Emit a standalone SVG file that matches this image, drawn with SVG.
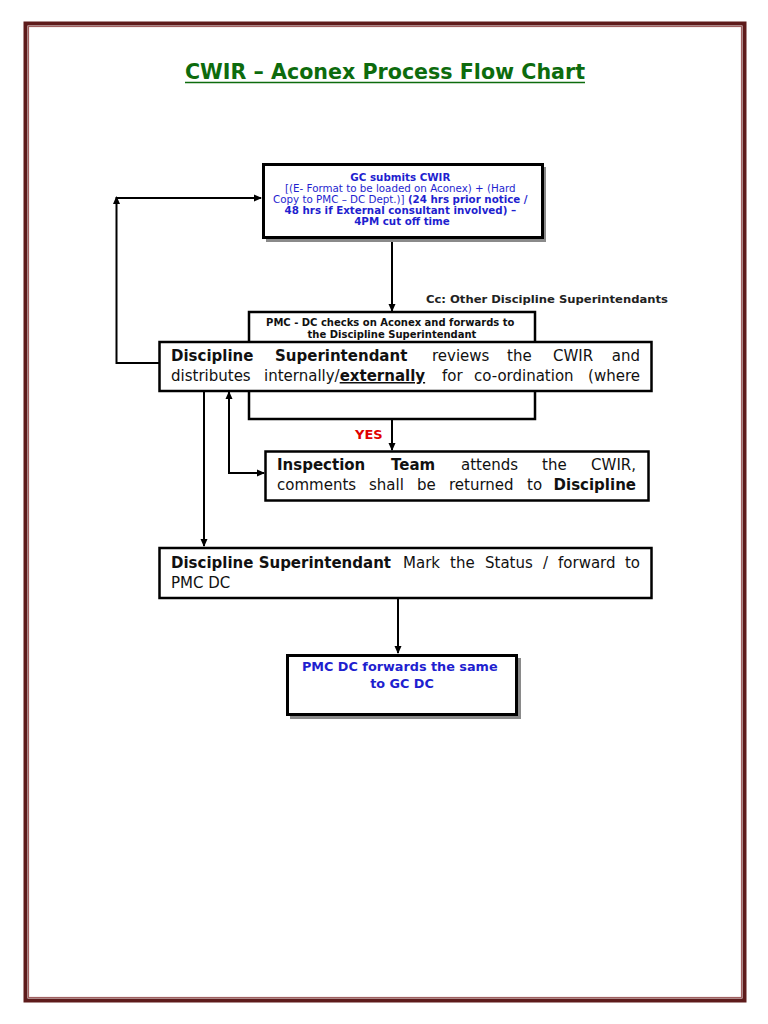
<svg xmlns="http://www.w3.org/2000/svg" width="768" height="1024" viewBox="0 0 768 1024">
<style>
.box{fill:#fff;stroke:#000;stroke-width:2.5}
.thick{fill:#fff;stroke:#000;stroke-width:3}
.shadow{fill:#8a8a8a}
.t{font-family:"DejaVu Sans","Verdana",sans-serif;font-size:15px;fill:#111}
.b{font-weight:bold}
.blue{font-family:"DejaVu Sans",sans-serif;fill:#1f1fcf}
.conn{fill:none;stroke:#000;stroke-width:2}
</style>
<defs>
<marker id="ah" markerWidth="8" markerHeight="8" refX="7" refY="4" orient="auto" markerUnits="userSpaceOnUse">
<path d="M0,0.5 L8,4 L0,7.5 Z" fill="#000"/>
</marker>
</defs>
<rect width="768" height="1024" fill="#fff"/>
<g id="page-border">
<rect x="25.5" y="23.5" width="719" height="977" fill="none" stroke="#5e1b1b" stroke-width="4"/>
<rect x="28.5" y="26.5" width="713" height="971" fill="none" stroke="#a06060" stroke-width="1.2"/>
</g>
<g id="title">
<text x="385" y="79" text-anchor="middle" font-family="'DejaVu Sans Condensed','DejaVu Sans',sans-serif" font-weight="bold" font-size="21" fill="#0d6b0d" textLength="400" lengthAdjust="spacingAndGlyphs">CWIR – Aconex Process Flow Chart</text>
<line x1="185" y1="82.5" x2="585" y2="82.5" stroke="#0d6b0d" stroke-width="1.6"/>
</g>
<g id="connectors">
<line class="conn" x1="392" y1="239" x2="392" y2="311" marker-end="url(#ah)"/>
<polyline class="conn" points="159,363 116.5,363 116.5,197" marker-end="url(#ah)"/>
<line class="conn" x1="117" y1="198" x2="261" y2="198" marker-end="url(#ah)"/>
<line class="conn" x1="392" y1="391" x2="392" y2="450" marker-end="url(#ah)"/>
<line class="conn" x1="204" y1="391" x2="204" y2="546" marker-end="url(#ah)" stroke-width="2.5"/>
<polyline class="conn" points="263,473 229,473 229,392" marker-end="url(#ah)"/>
<line class="conn" x1="229" y1="473" x2="264" y2="473" marker-end="url(#ah)"/>
<line class="conn" x1="398" y1="599" x2="398" y2="653" marker-end="url(#ah)"/>
</g>
<g id="node-gc-submits">
<rect class="shadow" x="266" y="167" width="280" height="75"/>
<rect class="thick" x="263.5" y="164.5" width="279" height="73"/>
<text class="blue" font-size="10.3" text-anchor="middle">
<tspan x="402" y="181" font-weight="bold">GC submits CWIR</tspan>
<tspan x="402" y="192">[(E- Format to be loaded on Aconex) + (Hard</tspan>
<tspan x="402" y="203">Copy to PMC – DC Dept.)] <tspan font-weight="bold">(24 hrs prior notice /</tspan></tspan>
<tspan x="402" y="214" font-weight="bold">48 hrs if External consultant involved) –</tspan>
<tspan x="402" y="225" font-weight="bold">4PM cut off time</tspan>
</text>
</g>
<g id="label-cc">
<text x="426" y="303" font-family="'DejaVu Sans',sans-serif" font-size="11" font-weight="bold" fill="#222" textLength="242" lengthAdjust="spacingAndGlyphs">Cc: Other Discipline Superintendants</text>
</g>
<g id="node-pmc-dc-checks">
<rect class="box" x="249" y="312" width="286" height="107"/>
<text font-family="'DejaVu Sans',sans-serif" font-size="10" font-weight="bold" fill="#111" text-anchor="middle">
<tspan x="392" y="326">PMC - DC checks on Aconex and forwards to</tspan>
<tspan x="392" y="338">the Discipline Superintendant</tspan>
</text>
</g>
<g id="node-discipline-reviews">
<rect class="box" x="159.5" y="342" width="492" height="49"/>
<text class="t" y="361"><tspan class="b" x="171">Discipline</tspan><tspan class="b" x="275">Superintendant</tspan><tspan x="432">reviews</tspan><tspan x="507">the</tspan><tspan x="553">CWIR</tspan></text>
<text class="t" x="640" y="361" text-anchor="end">and</text>
<text class="t" y="381"><tspan x="171">distributes</tspan><tspan x="264">internally/</tspan><tspan class="b" text-decoration="underline">externally</tspan><tspan x="442">for</tspan><tspan x="474">co-ordination</tspan></text>
<text class="t" x="640" y="381" text-anchor="end">(where</text>
</g>
<g id="label-yes">
<text x="355" y="439" font-family="'DejaVu Sans',sans-serif" font-size="13" font-weight="bold" fill="#e00000">YES</text>
</g>
<g id="node-inspection">
<rect class="box" x="265.5" y="451.5" width="383" height="49"/>
<text class="t" y="470"><tspan class="b" x="277">Inspection</tspan><tspan class="b" x="391">Team</tspan><tspan x="461">attends</tspan><tspan x="542">the</tspan></text>
<text class="t" x="636" y="470" text-anchor="end">CWIR,</text>
<text class="t" y="490"><tspan x="277">comments</tspan><tspan x="369">shall</tspan><tspan x="417">be</tspan><tspan x="449">returned</tspan><tspan x="527">to</tspan></text>
<text class="t b" x="636" y="490" text-anchor="end">Discipline</text>
</g>
<g id="node-discipline-mark">
<rect class="box" x="159.5" y="548" width="492" height="50"/>
<text class="t" y="568"><tspan class="b" x="171">Discipline Superintendant</tspan><tspan x="403">Mark</tspan><tspan x="450">the</tspan><tspan x="485">Status</tspan><tspan x="543">/</tspan><tspan x="558">forward</tspan></text>
<text class="t" x="640" y="568" text-anchor="end">to</text>
<text class="t" x="171" y="588">PMC DC</text>
</g>
<g id="node-pmc-dc-forwards">
<rect class="shadow" x="290" y="658" width="231" height="61"/>
<rect class="thick" x="287.5" y="655.5" width="229" height="59"/>
<text class="blue" font-size="12.8" font-weight="bold" text-anchor="middle">
<tspan x="402" y="671">PMC DC forwards the same</tspan>
<tspan x="402" y="688">to GC DC</tspan>
</text>
</g>
</svg>
